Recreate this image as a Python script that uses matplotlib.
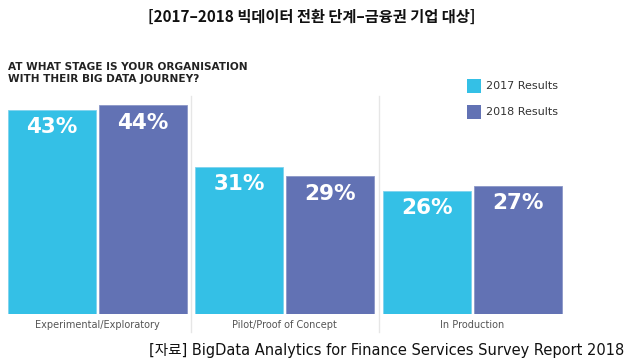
import matplotlib.pyplot as plt
from matplotlib.patches import Rectangle

categories = ["Experimental/Exploratory", "Pilot/Proof of Concept", "In Production"]
series_names = ["2017 Results", "2018 Results"]
values_2017 = [43, 31, 26]
values_2018 = [44, 29, 27]
colors = ["#34C0E6", "#6272B4"]

W, H = 631, 363
fig = plt.figure(figsize=(W / 100, H / 100), dpi=100)

def fx(px):
    return px / W

def fy(py):
    return 1 - py / H

ax_left, ax_right = 3.5, 566
ax_bottom, ax_top = 314, 314 - 50 * 4.75
ax = fig.add_axes([fx(ax_left), fy(ax_bottom), fx(ax_right - ax_left), (ax_bottom - ax_top) / H])
ax.set_xlim(-0.5, 2.5)
ax.set_ylim(0, 50)
ax.axis("off")

bw = 88 / 187.5
off = 91 / 2 / 187.5
xs = list(range(len(categories)))
for vals, col, sgn in [(values_2017, colors[0], -1), (values_2018, colors[1], 1)]:
    ax.bar([x + sgn * off for x in xs], vals, width=bw, color=col,
           edgecolor="#7fd3ee" if sgn < 0 else "#8b97c8", linewidth=0.6)
    for x, v in zip(xs, vals):
        ax.text(x + sgn * off, v - 3.7, f"{v}%", ha="center", va="center",
                color="white", fontsize=15.5, fontweight="bold", family="DejaVu Sans")

for d in [0.5, 1.5]:
    ax.plot([d, d], [-3.8, 45.8], color="#e6e6e6", lw=1.0, clip_on=False)

for x, c in zip(xs, categories):
    ax.text(x, -2.4, c, ha="center", va="center", fontsize=7, color="#555555",
            family="DejaVu Sans")

# Title
fig.text(fx(312), fy(17), "[2017–2018 빅데이터 전환 단계–금융권 기업 대상]",
         ha="center", va="center", fontsize=11, fontweight="bold",
         family=["Noto Sans CJK KR", "DejaVu Sans"], color="#111111")

# Subtitle
fig.text(fx(8), fy(73), "AT WHAT STAGE IS YOUR ORGANISATION\nWITH THEIR BIG DATA JOURNEY?",
         ha="left", va="center", fontsize=7.6, fontweight="bold",
         family="DejaVu Sans", color="#222222", linespacing=1.3)

# Legend
for i, (name, col) in enumerate(zip(series_names, colors)):
    cy = 86 + 26 * i
    fig.patches.append(Rectangle((fx(467), fy(cy + 7)), fx(14), 14 / H,
                                 transform=fig.transFigure, facecolor=col,
                                 edgecolor="none"))
    fig.text(fx(486), fy(cy), name, ha="left", va="center", fontsize=8,
             color="#333333", family="DejaVu Sans")

# Source
fig.text(fx(624), fy(350), "[자료] BigData Analytics for Finance Services Survey Report 2018",
         ha="right", va="center", fontsize=10.5,
         family=["DejaVu Sans", "Noto Sans CJK KR"], color="#111111")

fig.savefig("out.png", dpi=100, facecolor="white")
